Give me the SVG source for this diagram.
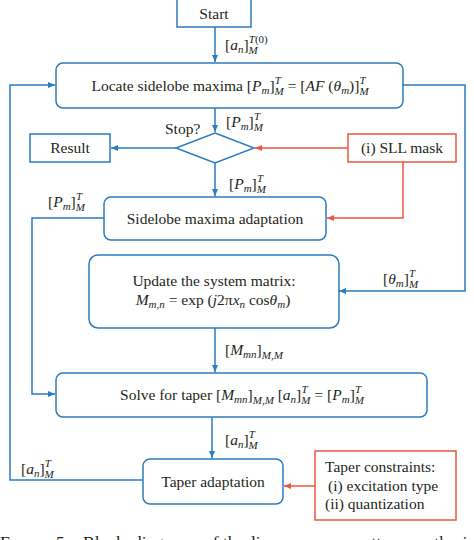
<svg xmlns="http://www.w3.org/2000/svg" width="474" height="540" viewBox="0 0 474 540">
<style>
.b{fill:#fff;stroke:#2b7bbf;stroke-width:1.5}
.r{fill:#fff;stroke:#e8573f;stroke-width:1.5}
.cb{fill:none;stroke:#2b7bbf;stroke-width:1.5}
.cr{fill:none;stroke:#e8573f;stroke-width:1.5}
text{font-family:"Liberation Serif","Times New Roman",serif;font-size:15.5px;fill:#231f20}
.i{font-style:italic}
.s{font-size:11px}
.c{text-anchor:middle}
.cap{font-size:17.5px}
</style>
<defs>
<marker id="ab" markerWidth="8" markerHeight="8" refX="7" refY="4" orient="auto" markerUnits="userSpaceOnUse"><path d="M0,1 L7,4 L0,7 Z" fill="#2b7bbf"/></marker>
<marker id="ar" markerWidth="8" markerHeight="8" refX="7" refY="4" orient="auto" markerUnits="userSpaceOnUse"><path d="M0,1 L7,4 L0,7 Z" fill="#e8573f"/></marker>
</defs>
<g id="connectors">
<path class="cb" d="M215,27 V62" marker-end="url(#ab)"/>
<path class="cb" d="M215,108 V132" marker-end="url(#ab)"/>
<path class="cb" d="M176,148 H111" marker-end="url(#ab)"/>
<path class="cb" d="M215,163 V196" marker-end="url(#ab)"/>
<path class="cb" d="M403,85 H465 V291 H339" marker-end="url(#ab)"/>
<path class="cb" d="M104,218 H32 V394 H55" marker-end="url(#ab)"/>
<path class="cb" d="M215,328 V372" marker-end="url(#ab)"/>
<path class="cb" d="M212,417 V458" marker-end="url(#ab)"/>
<path class="cb" d="M143,480 H10 V85 H55" marker-end="url(#ab)"/>
<path class="cr" d="M348,148 H255" marker-end="url(#ar)"/>
<path class="cr" d="M403,162 V218 H327" marker-end="url(#ar)"/>
<path class="cr" d="M315,486 H284" marker-end="url(#ar)"/>
<text x="225" y="50">[<tspan class="i">a</tspan><tspan class="i s" dy="3">n</tspan><tspan dy="-3">]</tspan><tspan class="i s" dy="4">M</tspan><tspan class="i s" dx="-9" dy="-11">T</tspan><tspan class="s">(0)</tspan></text>
<text x="226" y="127">[<tspan class="i">P</tspan><tspan class="i s" dy="3">m</tspan><tspan dy="-3">]</tspan><tspan class="i s" dy="4">M</tspan><tspan class="i s" dx="-9" dy="-11">T</tspan></text>
<text x="165" y="134">Stop?</text>
<text x="229" y="189">[<tspan class="i">P</tspan><tspan class="i s" dy="3">m</tspan><tspan dy="-3">]</tspan><tspan class="i s" dy="4">M</tspan><tspan class="i s" dx="-9" dy="-11">T</tspan></text>
<text x="48" y="207">[<tspan class="i">P</tspan><tspan class="i s" dy="3">m</tspan><tspan dy="-3">]</tspan><tspan class="i s" dy="4">M</tspan><tspan class="i s" dx="-9" dy="-11">T</tspan></text>
<text x="383" y="284">[<tspan class="i">θ</tspan><tspan class="i s" dy="3">m</tspan><tspan dy="-3">]</tspan><tspan class="i s" dy="4">M</tspan><tspan class="i s" dx="-9" dy="-11">T</tspan></text>
<text x="225" y="355">[<tspan class="i">M</tspan><tspan class="i s" dy="3">mn</tspan><tspan dy="-3">]</tspan><tspan class="i s" dy="4">M,M</tspan></text>
<text x="225" y="445">[<tspan class="i">a</tspan><tspan class="i s" dy="3">n</tspan><tspan dy="-3">]</tspan><tspan class="i s" dy="4">M</tspan><tspan class="i s" dx="-9" dy="-11">T</tspan></text>
<text x="21" y="474">[<tspan class="i">a</tspan><tspan class="i s" dy="3">n</tspan><tspan dy="-3">]</tspan><tspan class="i s" dy="4">M</tspan><tspan class="i s" dx="-9" dy="-11">T</tspan></text>
</g>
<g id="start"><rect class="b" x="177" y="-1" width="74" height="28"/><text class="c" x="214" y="19">Start</text></g>
<g id="locate"><rect class="b" x="56" y="63" width="347" height="45" rx="7"/>
<text class="c" x="230" y="91">Locate sidelobe maxima [<tspan class="i">P</tspan><tspan class="i s" dy="3">m</tspan><tspan dy="-3">]</tspan><tspan class="i s" dy="4">M</tspan><tspan class="i s" dx="-9" dy="-11">T</tspan><tspan dx="3" dy="7"> = [</tspan><tspan class="i">AF</tspan> (<tspan class="i">θ</tspan><tspan class="i s" dy="3">m</tspan><tspan dy="-3">)]</tspan><tspan class="i s" dy="4">M</tspan><tspan class="i s" dx="-9" dy="-11">T</tspan></text></g>
<g id="stop"><path class="b" d="M215,133 L254,148 L215,163 L176,148 Z"/></g>
<g id="result"><rect class="b" x="30" y="134" width="80" height="28"/><text class="c" x="70" y="153">Result</text></g>
<g id="sll"><rect class="r" x="348" y="134" width="108" height="28"/><text class="c" x="402" y="153">(i)  SLL mask</text></g>
<g id="adapt"><rect class="b" x="104" y="197" width="222" height="43" rx="7"/><text class="c" x="215" y="224">Sidelobe maxima adaptation</text></g>
<g id="update"><rect class="b" x="89" y="255" width="250" height="73" rx="9"/>
<text class="c" x="214" y="286">Update the system matrix:</text>
<text class="c" x="213" y="305"><tspan class="i">M</tspan><tspan class="i s" dy="3">m,n</tspan><tspan dy="-3"> = exp (</tspan><tspan class="i">j</tspan>2π<tspan class="i">x</tspan><tspan class="i s" dy="3">n</tspan><tspan dy="-3"> cos</tspan><tspan class="i">θ</tspan><tspan class="i s" dy="3">m</tspan><tspan dy="-3">)</tspan></text></g>
<g id="solve"><rect class="b" x="56" y="373" width="371" height="44" rx="7"/>
<text class="c" x="242" y="400">Solve for taper [<tspan class="i">M</tspan><tspan class="i s" dy="3">mn</tspan><tspan dy="-3">]</tspan><tspan class="i s" dy="4">M,M</tspan><tspan dy="-4"> [</tspan><tspan class="i">a</tspan><tspan class="i s" dy="3">n</tspan><tspan dy="-3">]</tspan><tspan class="i s" dy="4">M</tspan><tspan class="i s" dx="-9" dy="-11">T</tspan><tspan dx="3" dy="7"> = [</tspan><tspan class="i">P</tspan><tspan class="i s" dy="3">m</tspan><tspan dy="-3">]</tspan><tspan class="i s" dy="4">M</tspan><tspan class="i s" dx="-9" dy="-11">T</tspan></text></g>
<g id="taper"><rect class="b" x="143" y="459" width="140" height="45" rx="7"/><text class="c" x="213" y="487">Taper adaptation</text></g>
<g id="constraints"><rect class="r" x="315" y="451" width="141" height="69"/>
<text x="325" y="472">Taper constraints:</text>
<text x="328" y="491">(i)  excitation type</text>
<text x="325" y="509">(ii)  quantization</text></g>
<text class="cap" y="548"><tspan x="0" font-variant="small-caps">Figure</tspan><tspan x="56">5:</tspan><tspan x="83">Block</tspan><tspan x="133">diagram</tspan><tspan x="204">of</tspan><tspan x="223">the</tspan><tspan x="251">linear</tspan><tspan x="304">array</tspan><tspan x="355">pattern</tspan><tspan x="410">synthesis</tspan></text>
</svg>
